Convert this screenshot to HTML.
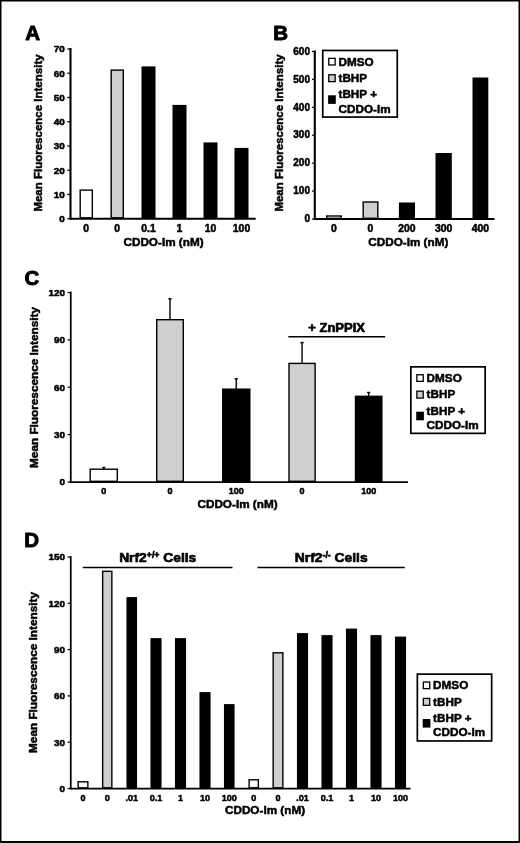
<!DOCTYPE html>
<html><head><meta charset="utf-8"><title>Figure</title>
<style>
html,body{margin:0;padding:0;background:#fff;}
#fig{position:relative;width:520px;height:843px;overflow:hidden;background:#fff;}
svg{position:absolute;left:0;top:0;display:block;}
text{stroke:#000;stroke-width:0.5px;stroke-linejoin:round;font-family:"Liberation Sans",sans-serif;font-weight:bold;fill:#000;}
</style></head><body>
<div id="fig">
<svg width="520" height="843" viewBox="0 0 520 843">
<rect x="0.00" y="0.00" width="520.00" height="1.50" fill="#000"/>
<rect x="0.00" y="0.00" width="1.50" height="843.00" fill="#000"/>
<rect x="518.50" y="0.00" width="1.50" height="843.00" fill="#000"/>
<rect x="0.00" y="841.00" width="520.00" height="2.00" fill="#000"/>
<text transform="translate(25.2,40.4) scale(1.05,1)" font-size="19.5" text-anchor="start" style="stroke-width:0.9px">A</text>
<line x1="70.50" y1="47.95" x2="70.50" y2="219.75" stroke="#000" stroke-width="2.1"/>
<line x1="69.45" y1="218.70" x2="255.70" y2="218.70" stroke="#000" stroke-width="2.1"/>
<line x1="67.30" y1="218.70" x2="70.50" y2="218.70" stroke="#000" stroke-width="1.2"/>
<text transform="translate(64.7,222.1) scale(1.1,1)" font-size="9" text-anchor="end">0</text>
<line x1="67.30" y1="194.46" x2="70.50" y2="194.46" stroke="#000" stroke-width="1.2"/>
<text transform="translate(64.7,197.85714285714286) scale(1.1,1)" font-size="9" text-anchor="end">10</text>
<line x1="67.30" y1="170.21" x2="70.50" y2="170.21" stroke="#000" stroke-width="1.2"/>
<text transform="translate(64.7,173.61428571428573) scale(1.1,1)" font-size="9" text-anchor="end">20</text>
<line x1="67.30" y1="145.97" x2="70.50" y2="145.97" stroke="#000" stroke-width="1.2"/>
<text transform="translate(64.7,149.37142857142857) scale(1.1,1)" font-size="9" text-anchor="end">30</text>
<line x1="67.30" y1="121.73" x2="70.50" y2="121.73" stroke="#000" stroke-width="1.2"/>
<text transform="translate(64.7,125.12857142857143) scale(1.1,1)" font-size="9" text-anchor="end">40</text>
<line x1="67.30" y1="97.49" x2="70.50" y2="97.49" stroke="#000" stroke-width="1.2"/>
<text transform="translate(64.7,100.88571428571429) scale(1.1,1)" font-size="9" text-anchor="end">50</text>
<line x1="67.30" y1="73.24" x2="70.50" y2="73.24" stroke="#000" stroke-width="1.2"/>
<text transform="translate(64.7,76.64285714285714) scale(1.1,1)" font-size="9" text-anchor="end">60</text>
<line x1="67.30" y1="49.00" x2="70.50" y2="49.00" stroke="#000" stroke-width="1.2"/>
<text transform="translate(64.7,52.4) scale(1.1,1)" font-size="9" text-anchor="end">70</text>
<text transform="translate(41.8,133) rotate(-90) scale(1.0,1)" font-size="11.5" text-anchor="middle">Mean Fluorescence Intensity</text>
<rect x="80.20" y="190.10" width="12.10" height="27.70" fill="#fff" stroke="#000" stroke-width="1.4"/>
<text transform="translate(86.25,232) scale(1.04,1)" font-size="10" text-anchor="middle">0</text>
<rect x="111.20" y="70.10" width="12.10" height="147.70" fill="#cfcfcf" stroke="#000" stroke-width="1.4"/>
<text transform="translate(117.25,232) scale(1.04,1)" font-size="10" text-anchor="middle">0</text>
<rect x="141.50" y="66.40" width="14.00" height="152.10" fill="#000"/>
<text transform="translate(148.5,232) scale(1.04,1)" font-size="10" text-anchor="middle">0.1</text>
<rect x="172.50" y="104.90" width="14.00" height="113.60" fill="#000"/>
<text transform="translate(179.5,232) scale(1.04,1)" font-size="10" text-anchor="middle">1</text>
<rect x="203.50" y="142.40" width="14.00" height="76.10" fill="#000"/>
<text transform="translate(210.5,232) scale(1.04,1)" font-size="10" text-anchor="middle">10</text>
<rect x="234.50" y="147.90" width="14.00" height="70.60" fill="#000"/>
<text transform="translate(241.5,232) scale(1.04,1)" font-size="10" text-anchor="middle">100</text>
<text transform="translate(163.5,246) scale(1.02,1)" font-size="11.5" text-anchor="middle">CDDO-Im (nM)</text>
<text transform="translate(273.2,40.4) scale(1.05,1)" font-size="19.5" text-anchor="start" style="stroke-width:0.9px">B</text>
<line x1="314.80" y1="50.45" x2="314.80" y2="220.05" stroke="#000" stroke-width="2.1"/>
<line x1="313.75" y1="219.00" x2="494.50" y2="219.00" stroke="#000" stroke-width="2.1"/>
<line x1="312.00" y1="219.00" x2="314.80" y2="219.00" stroke="#000" stroke-width="1.2"/>
<text transform="translate(310.0,222.2) scale(1.0,1)" font-size="10" text-anchor="end">0</text>
<line x1="312.00" y1="191.08" x2="314.80" y2="191.08" stroke="#000" stroke-width="1.2"/>
<text transform="translate(310.0,194.28333333333333) scale(1.0,1)" font-size="10" text-anchor="end">100</text>
<line x1="312.00" y1="163.17" x2="314.80" y2="163.17" stroke="#000" stroke-width="1.2"/>
<text transform="translate(310.0,166.36666666666665) scale(1.0,1)" font-size="10" text-anchor="end">200</text>
<line x1="312.00" y1="135.25" x2="314.80" y2="135.25" stroke="#000" stroke-width="1.2"/>
<text transform="translate(310.0,138.45) scale(1.0,1)" font-size="10" text-anchor="end">300</text>
<line x1="312.00" y1="107.33" x2="314.80" y2="107.33" stroke="#000" stroke-width="1.2"/>
<text transform="translate(310.0,110.53333333333333) scale(1.0,1)" font-size="10" text-anchor="end">400</text>
<line x1="312.00" y1="79.42" x2="314.80" y2="79.42" stroke="#000" stroke-width="1.2"/>
<text transform="translate(310.0,82.61666666666666) scale(1.0,1)" font-size="10" text-anchor="end">500</text>
<line x1="312.00" y1="51.50" x2="314.80" y2="51.50" stroke="#000" stroke-width="1.2"/>
<text transform="translate(310.0,54.7) scale(1.0,1)" font-size="10" text-anchor="end">600</text>
<text transform="translate(283.3,133) rotate(-90) scale(1.0,1)" font-size="11.5" text-anchor="middle">Mean Fluorescence Intensity</text>
<rect x="326.70" y="216.00" width="14.50" height="2.30" fill="#fff" stroke="#000" stroke-width="1.4"/>
<text transform="translate(333.95,232) scale(1.04,1)" font-size="10" text-anchor="middle">0</text>
<rect x="363.20" y="202.00" width="14.60" height="16.30" fill="#cfcfcf" stroke="#000" stroke-width="1.4"/>
<text transform="translate(370.5,232) scale(1.04,1)" font-size="10" text-anchor="middle">0</text>
<rect x="398.90" y="202.50" width="16.10" height="16.50" fill="#000"/>
<text transform="translate(406.95,232) scale(1.04,1)" font-size="10" text-anchor="middle">200</text>
<rect x="435.50" y="153.00" width="16.30" height="66.00" fill="#000"/>
<text transform="translate(443.65,232) scale(1.04,1)" font-size="10" text-anchor="middle">300</text>
<rect x="472.50" y="77.50" width="15.80" height="141.50" fill="#000"/>
<text transform="translate(480.4,232) scale(1.04,1)" font-size="10" text-anchor="middle">400</text>
<text transform="translate(408.3,246.4) scale(1.02,1)" font-size="11.5" text-anchor="middle">CDDO-Im (nM)</text>
<rect x="322.75" y="50.45" width="74.50" height="66.60" fill="#fff" stroke="#000" stroke-width="1.7"/>
<rect x="328.75" y="58.35" width="6.40" height="6.60" fill="#fff" stroke="#000" stroke-width="1.3"/>
<text transform="translate(338.5,65.5) scale(1.02,1)" font-size="11.5" text-anchor="start">DMSO</text>
<rect x="328.75" y="74.75" width="6.40" height="6.90" fill="#cfcfcf" stroke="#000" stroke-width="1.3"/>
<text transform="translate(338.5,81.80000000000001) scale(1.02,1)" font-size="11.5" text-anchor="start">tBHP</text>
<rect x="328.10" y="95.30" width="7.70" height="8.60" fill="#000"/>
<text transform="translate(338.5,98.2) scale(1.02,1)" font-size="11.5" text-anchor="start">tBHP +</text>
<text transform="translate(338.5,112.6) scale(1.02,1)" font-size="11.5" text-anchor="start">CDDO-Im</text>
<text transform="translate(24.4,285.0) scale(1.05,1)" font-size="19.5" text-anchor="start" style="stroke-width:0.9px">C</text>
<line x1="70.75" y1="291.62" x2="70.75" y2="482.88" stroke="#000" stroke-width="1.75"/>
<line x1="69.88" y1="482.00" x2="408.00" y2="482.00" stroke="#000" stroke-width="1.75"/>
<line x1="67.55" y1="482.00" x2="70.75" y2="482.00" stroke="#000" stroke-width="1.2"/>
<text transform="translate(64.95,485.4) scale(1.1,1)" font-size="9" text-anchor="end">0</text>
<line x1="67.55" y1="434.62" x2="70.75" y2="434.62" stroke="#000" stroke-width="1.2"/>
<text transform="translate(64.95,438.025) scale(1.1,1)" font-size="9" text-anchor="end">30</text>
<line x1="67.55" y1="387.25" x2="70.75" y2="387.25" stroke="#000" stroke-width="1.2"/>
<text transform="translate(64.95,390.65) scale(1.1,1)" font-size="9" text-anchor="end">60</text>
<line x1="67.55" y1="339.88" x2="70.75" y2="339.88" stroke="#000" stroke-width="1.2"/>
<text transform="translate(64.95,343.275) scale(1.1,1)" font-size="9" text-anchor="end">90</text>
<line x1="67.55" y1="292.50" x2="70.75" y2="292.50" stroke="#000" stroke-width="1.2"/>
<text transform="translate(64.95,295.9) scale(1.1,1)" font-size="9" text-anchor="end">120</text>
<text transform="translate(37.5,387.5) rotate(-90) scale(1.025,1)" font-size="11.5" text-anchor="middle">Mean Fluorescence Intensity</text>
<line x1="103.75" y1="467.20" x2="103.75" y2="469.50" stroke="#000" stroke-width="1.4"/>
<line x1="102.15" y1="467.50" x2="105.35" y2="467.50" stroke="#000" stroke-width="1.4"/>
<rect x="90.20" y="469.20" width="27.10" height="12.10" fill="#fff" stroke="#000" stroke-width="1.4"/>
<text transform="translate(103.75,493.5) scale(1.0,1)" font-size="9" text-anchor="middle">0</text>
<line x1="170.00" y1="298.50" x2="170.00" y2="320.00" stroke="#000" stroke-width="1.4"/>
<line x1="168.40" y1="298.80" x2="171.60" y2="298.80" stroke="#000" stroke-width="1.4"/>
<rect x="156.70" y="319.70" width="26.60" height="161.60" fill="#cfcfcf" stroke="#000" stroke-width="1.4"/>
<text transform="translate(170.0,493.5) scale(1.0,1)" font-size="9" text-anchor="middle">0</text>
<line x1="236.25" y1="378.50" x2="236.25" y2="389.50" stroke="#000" stroke-width="1.4"/>
<line x1="234.65" y1="378.80" x2="237.85" y2="378.80" stroke="#000" stroke-width="1.4"/>
<rect x="222.00" y="388.50" width="28.50" height="93.50" fill="#000"/>
<text transform="translate(236.25,493.5) scale(1.0,1)" font-size="9" text-anchor="middle">100</text>
<line x1="302.05" y1="342.30" x2="302.05" y2="363.70" stroke="#000" stroke-width="1.4"/>
<line x1="300.45" y1="342.60" x2="303.65" y2="342.60" stroke="#000" stroke-width="1.4"/>
<rect x="289.00" y="363.40" width="26.10" height="117.90" fill="#cfcfcf" stroke="#000" stroke-width="1.4"/>
<text transform="translate(302.05,493.5) scale(1.0,1)" font-size="9" text-anchor="middle">0</text>
<line x1="368.65" y1="392.20" x2="368.65" y2="396.60" stroke="#000" stroke-width="1.4"/>
<line x1="367.05" y1="392.50" x2="370.25" y2="392.50" stroke="#000" stroke-width="1.4"/>
<rect x="354.80" y="395.60" width="27.70" height="86.40" fill="#000"/>
<text transform="translate(368.65,493.5) scale(1.0,1)" font-size="9" text-anchor="middle">100</text>
<text transform="translate(237.5,507.5) scale(1.02,1)" font-size="11.5" text-anchor="middle">CDDO-Im (nM)</text>
<line x1="288.30" y1="336.80" x2="385.20" y2="336.80" stroke="#000" stroke-width="1.5"/>
<text transform="translate(336.6,332.2) scale(1.0,1)" font-size="13" text-anchor="middle" style="stroke-width:0.65px">+ ZnPPIX</text>
<rect x="410.85" y="366.85" width="74.30" height="66.50" fill="#fff" stroke="#000" stroke-width="1.7"/>
<rect x="416.85" y="374.75" width="6.40" height="6.60" fill="#fff" stroke="#000" stroke-width="1.3"/>
<text transform="translate(426.6,381.9) scale(1.02,1)" font-size="11.5" text-anchor="start">DMSO</text>
<rect x="416.85" y="391.15" width="6.40" height="6.90" fill="#cfcfcf" stroke="#000" stroke-width="1.3"/>
<text transform="translate(426.6,398.2) scale(1.02,1)" font-size="11.5" text-anchor="start">tBHP</text>
<rect x="416.20" y="411.70" width="7.70" height="8.60" fill="#000"/>
<text transform="translate(426.6,414.6) scale(1.02,1)" font-size="11.5" text-anchor="start">tBHP +</text>
<text transform="translate(426.6,429.0) scale(1.02,1)" font-size="11.5" text-anchor="start">CDDO-Im</text>
<text transform="translate(24.2,546.8) scale(1.05,1)" font-size="19.5" text-anchor="start" style="stroke-width:0.9px">D</text>
<line x1="70.75" y1="556.12" x2="70.75" y2="789.38" stroke="#000" stroke-width="1.75"/>
<line x1="69.88" y1="788.50" x2="410.50" y2="788.50" stroke="#000" stroke-width="1.75"/>
<line x1="67.55" y1="788.50" x2="70.75" y2="788.50" stroke="#000" stroke-width="1.2"/>
<text transform="translate(64.95,791.9) scale(1.1,1)" font-size="9" text-anchor="end">0</text>
<line x1="67.55" y1="742.20" x2="70.75" y2="742.20" stroke="#000" stroke-width="1.2"/>
<text transform="translate(64.95,745.6) scale(1.1,1)" font-size="9" text-anchor="end">30</text>
<line x1="67.55" y1="695.90" x2="70.75" y2="695.90" stroke="#000" stroke-width="1.2"/>
<text transform="translate(64.95,699.3) scale(1.1,1)" font-size="9" text-anchor="end">60</text>
<line x1="67.55" y1="649.60" x2="70.75" y2="649.60" stroke="#000" stroke-width="1.2"/>
<text transform="translate(64.95,653.0) scale(1.1,1)" font-size="9" text-anchor="end">90</text>
<line x1="67.55" y1="603.30" x2="70.75" y2="603.30" stroke="#000" stroke-width="1.2"/>
<text transform="translate(64.95,606.6999999999999) scale(1.1,1)" font-size="9" text-anchor="end">120</text>
<line x1="67.55" y1="557.00" x2="70.75" y2="557.00" stroke="#000" stroke-width="1.2"/>
<text transform="translate(64.95,560.4) scale(1.1,1)" font-size="9" text-anchor="end">150</text>
<text transform="translate(37.0,672.5) rotate(-90) scale(1.025,1)" font-size="11.5" text-anchor="middle">Mean Fluorescence Intensity</text>
<rect x="78.15" y="781.80" width="9.70" height="6.00" fill="#fff" stroke="#000" stroke-width="1.4"/>
<text transform="translate(83.0,800.5) scale(1.0,1)" font-size="9" text-anchor="middle">0</text>
<rect x="102.65" y="571.30" width="9.20" height="216.50" fill="#cfcfcf" stroke="#000" stroke-width="1.4"/>
<text transform="translate(107.25,800.5) scale(1.0,1)" font-size="9" text-anchor="middle">0</text>
<rect x="126.45" y="597.10" width="10.60" height="191.40" fill="#000"/>
<text transform="translate(131.75,800.5) scale(1.0,1)" font-size="9" text-anchor="middle">.01</text>
<rect x="150.45" y="638.10" width="11.10" height="150.40" fill="#000"/>
<text transform="translate(156.0,800.5) scale(1.0,1)" font-size="9" text-anchor="middle">0.1</text>
<rect x="174.95" y="638.10" width="11.10" height="150.40" fill="#000"/>
<text transform="translate(180.5,800.5) scale(1.0,1)" font-size="9" text-anchor="middle">1</text>
<rect x="199.45" y="692.10" width="11.10" height="96.40" fill="#000"/>
<text transform="translate(205.0,800.5) scale(1.0,1)" font-size="9" text-anchor="middle">10</text>
<rect x="223.95" y="704.10" width="10.60" height="84.40" fill="#000"/>
<text transform="translate(229.25,800.5) scale(1.0,1)" font-size="9" text-anchor="middle">100</text>
<rect x="249.15" y="779.80" width="9.20" height="8.00" fill="#fff" stroke="#000" stroke-width="1.4"/>
<text transform="translate(253.75,800.5) scale(1.0,1)" font-size="9" text-anchor="middle">0</text>
<rect x="273.15" y="652.80" width="9.70" height="135.00" fill="#cfcfcf" stroke="#000" stroke-width="1.4"/>
<text transform="translate(278.0,800.5) scale(1.0,1)" font-size="9" text-anchor="middle">0</text>
<rect x="296.95" y="633.10" width="11.10" height="155.40" fill="#000"/>
<text transform="translate(302.5,800.5) scale(1.0,1)" font-size="9" text-anchor="middle">.01</text>
<rect x="321.45" y="635.10" width="11.10" height="153.40" fill="#000"/>
<text transform="translate(327.0,800.5) scale(1.0,1)" font-size="9" text-anchor="middle">0.1</text>
<rect x="345.95" y="628.60" width="11.10" height="159.90" fill="#000"/>
<text transform="translate(351.5,800.5) scale(1.0,1)" font-size="9" text-anchor="middle">1</text>
<rect x="370.45" y="635.10" width="11.10" height="153.40" fill="#000"/>
<text transform="translate(376.0,800.5) scale(1.0,1)" font-size="9" text-anchor="middle">10</text>
<rect x="394.95" y="636.60" width="11.10" height="151.90" fill="#000"/>
<text transform="translate(400.5,800.5) scale(1.0,1)" font-size="9" text-anchor="middle">100</text>
<text transform="translate(265,814) scale(1.02,1)" font-size="11.5" text-anchor="middle">CDDO-Im (nM)</text>
<line x1="82.80" y1="567.50" x2="232.50" y2="567.50" stroke="#000" stroke-width="1.6"/>
<line x1="257.50" y1="567.50" x2="404.80" y2="567.50" stroke="#000" stroke-width="1.6"/>
<text transform="translate(157.7,562.2) scale(1.025,1)" font-size="13.5" text-anchor="middle" style="stroke-width:0.65px">Nrf2<tspan font-size="8.5" dy="-4.5">+/+</tspan><tspan dy="4.5"> Cells</tspan></text>
<text transform="translate(331.2,562.2) scale(1.025,1)" font-size="13.5" text-anchor="middle" style="stroke-width:0.65px">Nrf2<tspan font-size="8.5" dy="-4.5">-/-</tspan><tspan dy="4.5"> Cells</tspan></text>
<rect x="417.35" y="674.15" width="74.30" height="66.80" fill="#fff" stroke="#000" stroke-width="1.7"/>
<rect x="423.35" y="682.05" width="6.40" height="6.60" fill="#fff" stroke="#000" stroke-width="1.3"/>
<text transform="translate(433.1,689.1999999999999) scale(1.02,1)" font-size="11.5" text-anchor="start">DMSO</text>
<rect x="423.35" y="698.45" width="6.40" height="6.90" fill="#cfcfcf" stroke="#000" stroke-width="1.3"/>
<text transform="translate(433.1,705.5) scale(1.02,1)" font-size="11.5" text-anchor="start">tBHP</text>
<rect x="422.70" y="719.00" width="7.70" height="8.60" fill="#000"/>
<text transform="translate(433.1,721.9) scale(1.02,1)" font-size="11.5" text-anchor="start">tBHP +</text>
<text transform="translate(433.1,736.3) scale(1.02,1)" font-size="11.5" text-anchor="start">CDDO-Im</text>
</svg>
</div>
</body></html>
